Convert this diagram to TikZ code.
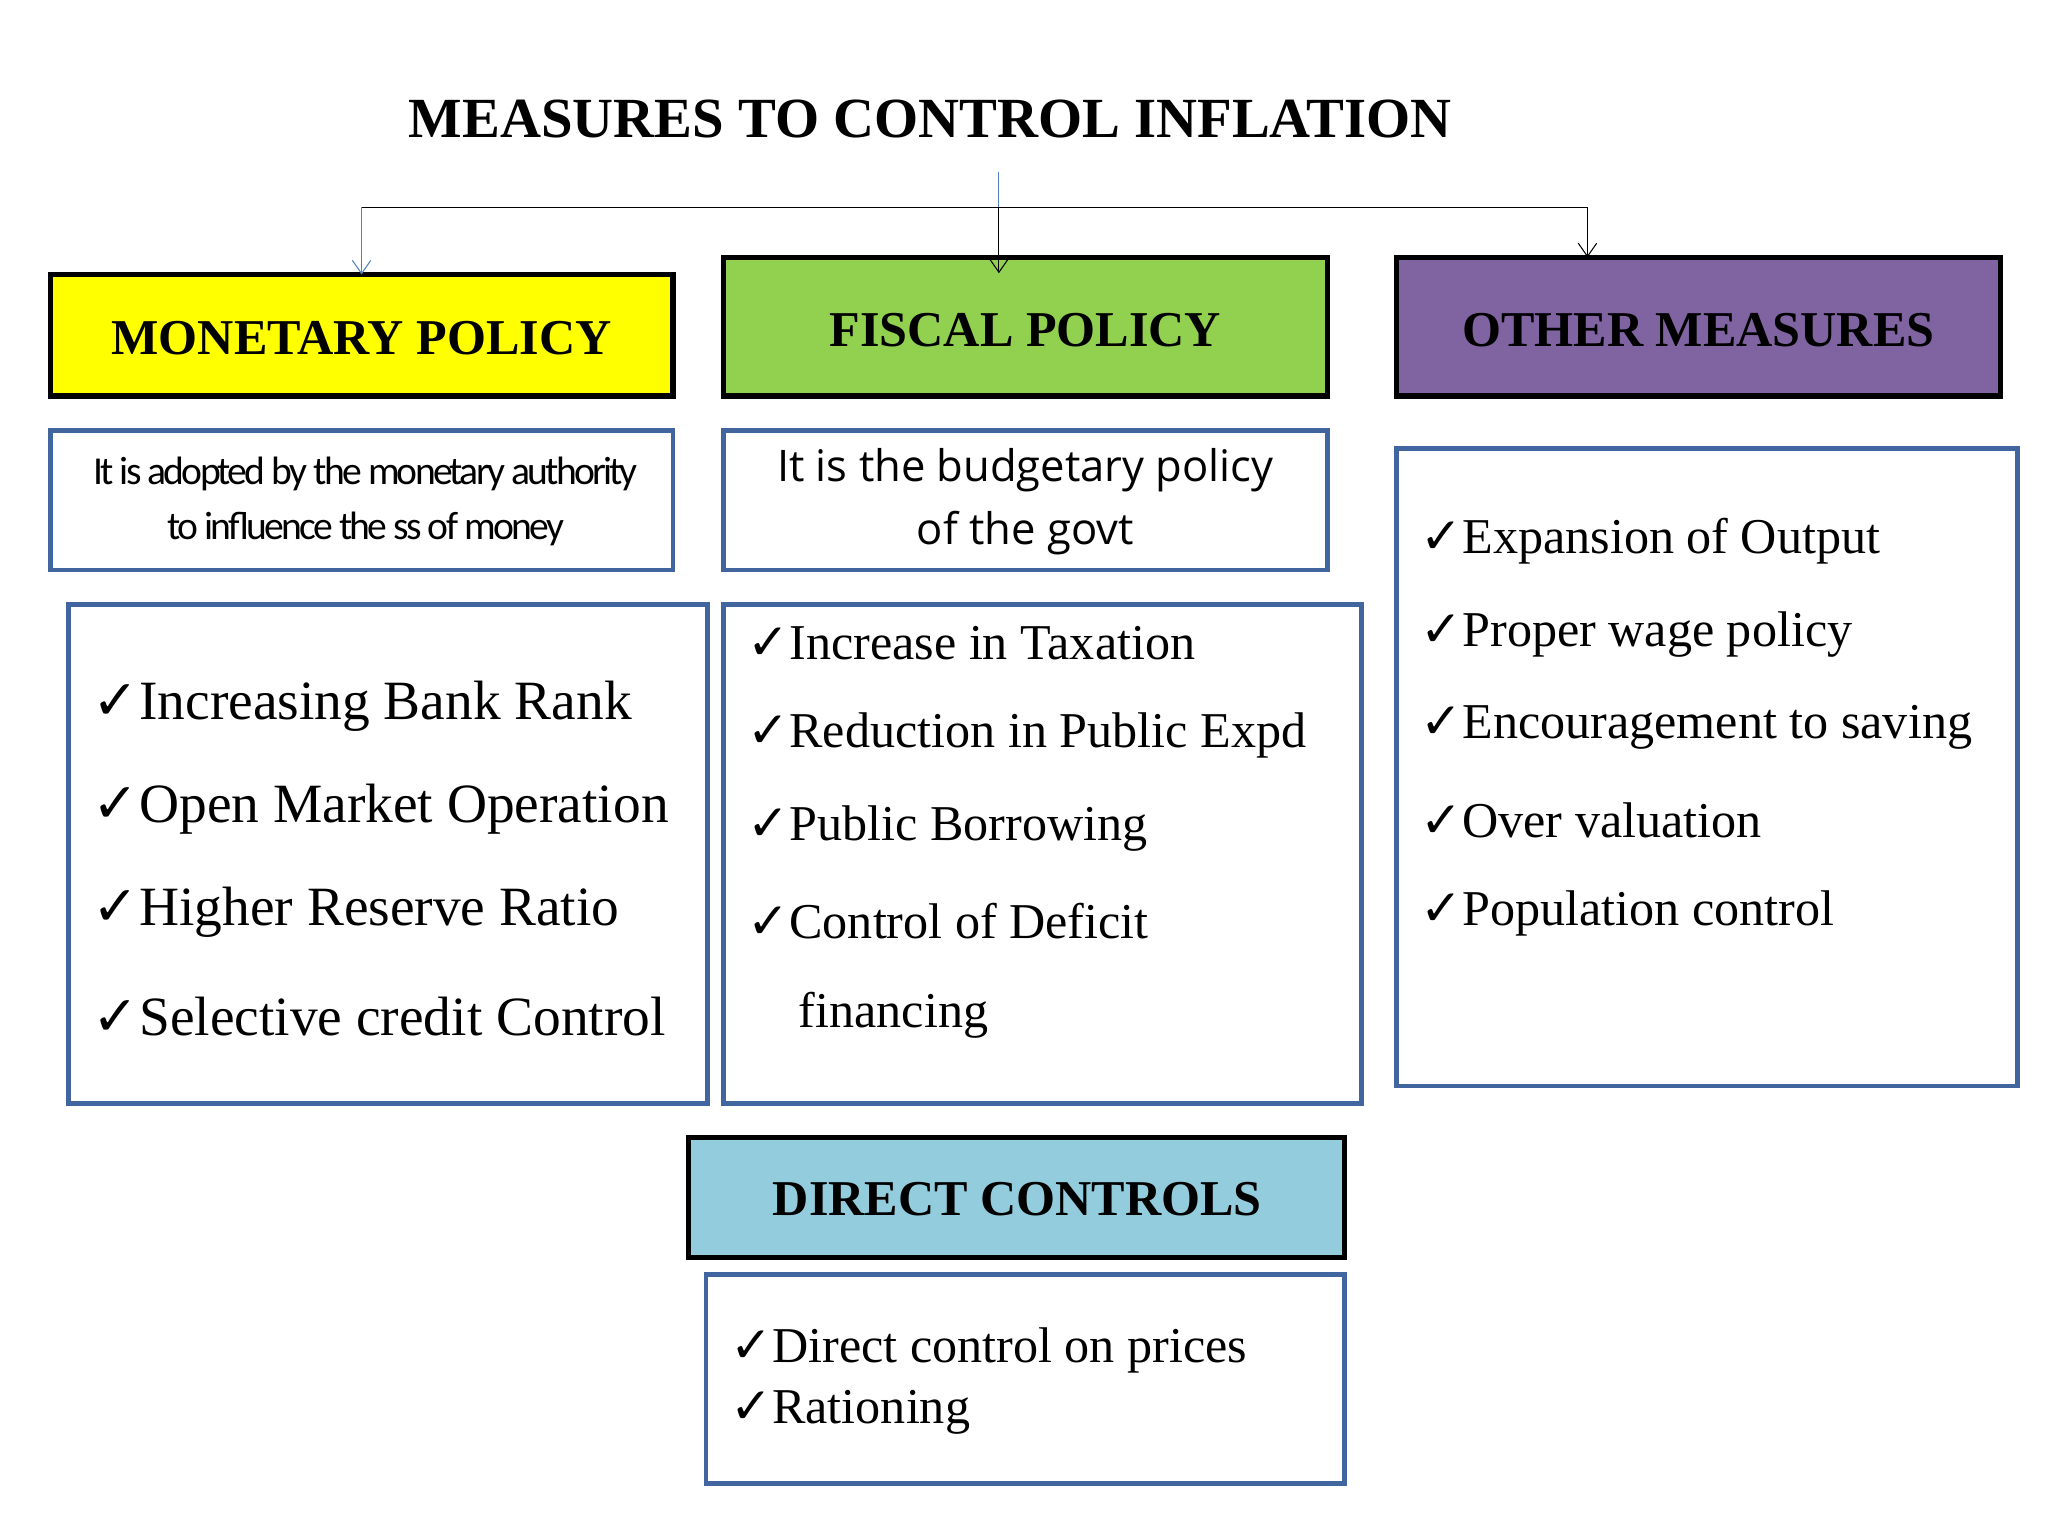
\documentclass[tikz,border=0pt]{standalone}
\usepackage{fontspec}
\usetikzlibrary{arrows.meta}
\setmainfont{Liberation Serif}
\newfontfamily\ckfont{DejaVu Sans}
\newfontfamily\carl[LetterSpace=-7]{Carlito}
\newfontfamily\opensans{Open Sans}
\definecolor{bord}{HTML}{41659E}
\definecolor{yel}{HTML}{FFFF00}
\definecolor{grn}{HTML}{92D050}
\definecolor{pur}{HTML}{8064A2}
\definecolor{lblue}{HTML}{93CDDD}
\definecolor{arrb}{HTML}{4F81BD}
\newcommand{\ck}{{\ckfont\char"2713}}
\tikzset{
 head/.style={draw=black,line width=2pt},
 lbox/.style={draw=bord,line width=1.8pt,fill=white},
 htxt/.style={font=\fontsize{19}{21}\selectfont\bfseries},
 item/.style={anchor=west,inner sep=0pt,font=\fontsize{21}{23}\selectfont},
 itemb/.style={anchor=west,inner sep=0pt,font=\fontsize{19}{21}\selectfont},
 arr/.style={-{Straight Barb[length=5pt,width=7pt]}},
}
\begin{document}
\begin{tikzpicture}[x=0.5pt,y=-0.5pt]
\useasboundingbox (0,0) rectangle (1552,1164);
\node[font=\fontsize{21.5}{23}\selectfont\bfseries] (title) at (705,90) {MEASURES TO CONTROL INFLATION};
% boxes
\draw[head,fill=yel] (38,208) rectangle (510,300);
\node[htxt] (mp) at (274,256) {MONETARY POLICY};
\draw[head,fill=grn] (548,195) rectangle (1006,300);
\node[htxt] (fp) at (777,250) {FISCAL POLICY};
\draw[head,fill=pur] (1058,195) rectangle (1516,300);
\node[htxt] (om) at (1287,250) {OTHER MEASURES};
% connectors
\coordinate (top) at (757,130);
\coordinate (j) at (757,157);
\coordinate (l) at (274,157);
\coordinate (r) at (1203,157);
\coordinate (mpt) at (274,208);
\coordinate (fpt) at (757,207);
\coordinate (omt) at (1203,195);
\draw (l) -- (r);
\draw[arrb,arr] (l) -- (mpt);
\draw[arrb] (top) -- (fpt);
\draw[arr] (j) -- (fpt);
\draw[arr] (r) -- (omt);
% descriptions
\draw[lbox] (38,326) rectangle (510,432);
\node[font=\carl\fontsize{15}{21}\selectfont,align=center] (md) at (277,380) {It is adopted by the monetary authority\\to influence the ss of money};
\draw[lbox] (548,326) rectangle (1006,432);
\node[font=\opensans\fontsize{16.5}{24}\selectfont,align=center] (fd) at (777,380) {It is the budgetary policy\\of the govt};
% lists
\draw[lbox] (52,458) rectangle (536,836);
\node[item] (m1) at (70,535) {\ck Increasing Bank Rank};
\node[item] (m2) at (70,613) {\ck Open Market Operation};
\node[item] (m3) at (70,691) {\ck Higher Reserve Ratio};
\node[item] (m4) at (70,770) {\ck Selective credit Control};
\draw[lbox] (548,458) rectangle (1032,836);
\node[itemb] (f1) at (566,487) {\ck Increase in Taxation};
\node[itemb] (f2) at (566,557) {\ck Reduction in Public Expd};
\node[itemb] (f3) at (566,628) {\ck Public Borrowing};
\node[itemb] (f4) at (566,698) {\ck Control of Deficit};
\node[itemb] (f5) at (605,769) {financing};
\draw[lbox] (1058,340) rectangle (1529,823);
\node[itemb] (o1) at (1076,410) {\ck Expansion of Output};
\node[itemb] (o2) at (1076,481) {\ck Proper wage policy};
\node[itemb] (o3) at (1076,551) {\ck Encouragement to saving};
\node[itemb] (o4) at (1076,622) {\ck Over valuation};
\node[itemb] (o5) at (1076,692) {\ck Population control};
% direct controls
\draw[head,fill=lblue] (522,862) rectangle (1019,953);
\node[htxt] (dc) at (771,909) {DIRECT CONTROLS};
\draw[lbox] (535,966) rectangle (1019,1124);
\node[itemb] (d1) at (553,1023) {\ck Direct control on prices};
\node[itemb] (d2) at (553,1070) {\ck Rationing};
\end{tikzpicture}
\end{document}
